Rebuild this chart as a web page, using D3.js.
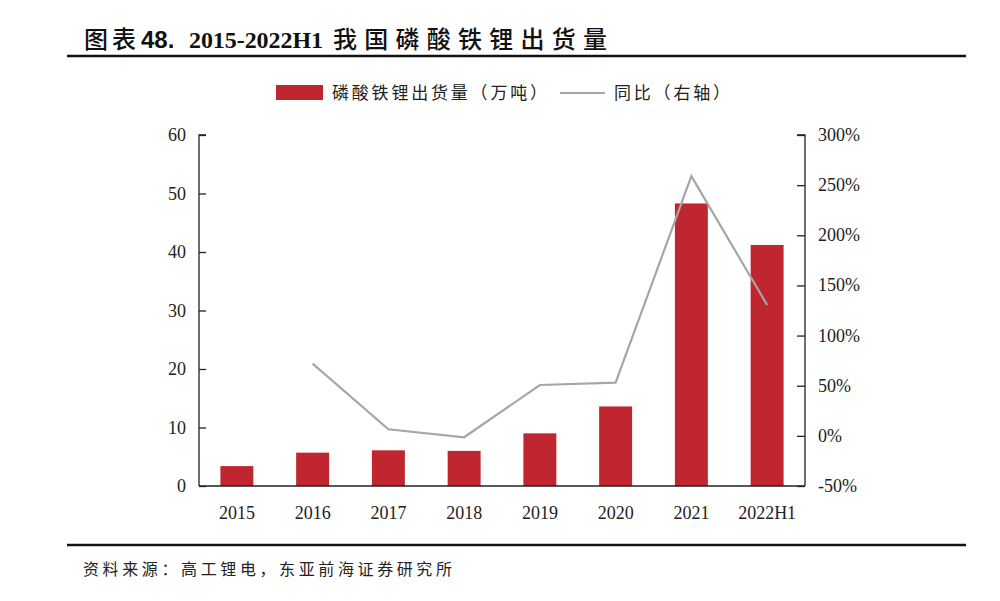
<!DOCTYPE html>
<html><head><meta charset="utf-8">
<script src="https://cdn.jsdelivr.net/npm/d3@7"></script>
<style>
body{margin:0;background:#fff;}
svg{display:block;}
</style></head>
<body>
<svg id="chart" width="1000" height="601"></svg>
<script>
const categories = ["2015","2016","2017","2018","2019","2020","2021","2022H1"];
const shipments = [3.4, 5.7, 6.1, 6.0, 9.0, 13.6, 48.3, 41.2];
const yoy = [null, 0.72, 0.066, -0.014, 0.507, 0.53, 2.59, 1.305];
const leftTicks = [0,10,20,30,40,50,60];
const rightTicks = [-0.5,0,0.5,1,1.5,2,2.5,3];
const titleParts = ["图表", "48.", "2015-2022H1", "我国磷酸铁锂出货量"];
const legendLabels = ["磷酸铁锂出货量（万吨）", "同比（右轴）"];
const sourceText = "资料来源：高工锂电，东亚前海证券研究所";

const svg = d3.select("#chart");
const L = 199, R = 805, T = 135, B = 486;
const serif = "'Liberation Serif','Times New Roman',serif";
const sans = "'Liberation Sans',Arial,sans-serif";
const cjk = "'Noto Sans CJK SC','Noto Sans',sans-serif";

const x = d3.scaleBand().domain(categories).range([L, R]).paddingInner(0.565).paddingOuter(0.2825);
const y = d3.scaleLinear().domain([0, 60]).range([B, T]);
const y2 = d3.scaleLinear().domain([-0.5, 3]).range([B, T]);

function cjkText(x0, y0, size, width, str, weight) {
  return svg.append("text").attr("x", x0).attr("y", y0)
    .attr("font-family", cjk).attr("font-size", size).attr("font-weight", weight || 400)
    .attr("fill", "#111").attr("textLength", width).attr("lengthAdjust", "spacing").text(str);
}

// title
cjkText(84, 48, 24, 52, titleParts[0], 500);
svg.append("text").attr("x", 141).attr("y", 48).attr("font-family", sans).attr("font-weight", 700)
  .attr("font-size", 24).attr("fill", "#111").text(titleParts[1]);
svg.append("text").attr("x", 189).attr("y", 48).attr("font-family", serif).attr("font-weight", 700)
  .attr("font-size", 24).attr("fill", "#111").attr("textLength", 134).attr("lengthAdjust", "spacing").text(titleParts[2]);
cjkText(333, 48, 24, 274, titleParts[3], 500);
svg.append("line").attr("x1", 67).attr("x2", 966).attr("y1", 56).attr("y2", 56).attr("stroke", "#111").attr("stroke-width", 2.5);

// legend
svg.append("rect").attr("x", 276).attr("y", 85).attr("width", 47).attr("height", 15).attr("fill", "#C0262F");
cjkText(332, 99, 17, 215, legendLabels[0]).attr("fill", "#222");
svg.append("line").attr("x1", 560).attr("x2", 605).attr("y1", 93).attr("y2", 93).attr("stroke", "#A6A6A6").attr("stroke-width", 2);
cjkText(614, 99, 17, 116, legendLabels[1]).attr("fill", "#222");

// bars
svg.append("g").selectAll("rect").data(categories).join("rect")
  .attr("x", d => x(d)).attr("width", x.bandwidth())
  .attr("y", (d, i) => y(shipments[i])).attr("height", (d, i) => y(0) - y(shipments[i]))
  .attr("fill", "#C0262F");

// axes
const axL = svg.append("g").attr("transform", `translate(${L},0)`)
  .call(d3.axisRight(y).tickValues(leftTicks).tickSize(7).tickFormat(""));
axL.select(".domain").attr("d", `M${7},${T}H0V${B}`);
svg.append("g").selectAll("text").data(leftTicks).join("text")
  .attr("x", 186).attr("y", d => y(d) + 6).attr("text-anchor", "end")
  .attr("font-family", serif).attr("font-size", 18).attr("fill", "#222").text(d => d);

const axR = svg.append("g").attr("transform", `translate(${R},0)`)
  .call(d3.axisLeft(y2).tickValues(rightTicks).tickSize(8).tickFormat(""));
axR.select(".domain").attr("d", `M${-8},${T}H0V${B}`);
svg.append("g").selectAll("text").data(rightTicks).join("text")
  .attr("x", 818).attr("y", d => y2(d) + 6).attr("text-anchor", "start")
  .attr("font-family", serif).attr("font-size", 18).attr("fill", "#222").text(d => Math.round(d * 100) + "%");

const axB = svg.append("g").attr("transform", `translate(0,${B})`)
  .call(d3.axisBottom(x).tickSize(0).tickFormat(""));
axB.select(".domain").attr("d", `M${L},0H${R}`);
svg.append("g").selectAll("text").data(categories).join("text")
  .attr("x", d => x(d) + x.bandwidth() / 2).attr("y", 519).attr("text-anchor", "middle")
  .attr("font-family", serif).attr("font-size", 18).attr("fill", "#222").text(d => d);

svg.selectAll(".domain").attr("stroke", "#222").attr("stroke-width", 1.3);
svg.selectAll(".tick line").attr("stroke", "#222").attr("stroke-width", 1.3);

// line
const pts = categories.map((c, i) => ({c, v: yoy[i]})).filter(d => d.v !== null);
svg.append("path").datum(pts)
  .attr("d", d3.line().x(d => x(d.c) + x.bandwidth() / 2).y(d => y2(d.v)))
  .attr("fill", "none").attr("stroke", "#A6A6A6").attr("stroke-width", 2.2);

// source
svg.append("line").attr("x1", 67).attr("x2", 966).attr("y1", 545).attr("y2", 545).attr("stroke", "#111").attr("stroke-width", 2.5);
cjkText(83, 575, 16, 369, sourceText).attr("fill", "#222");
</script>
</body></html>
